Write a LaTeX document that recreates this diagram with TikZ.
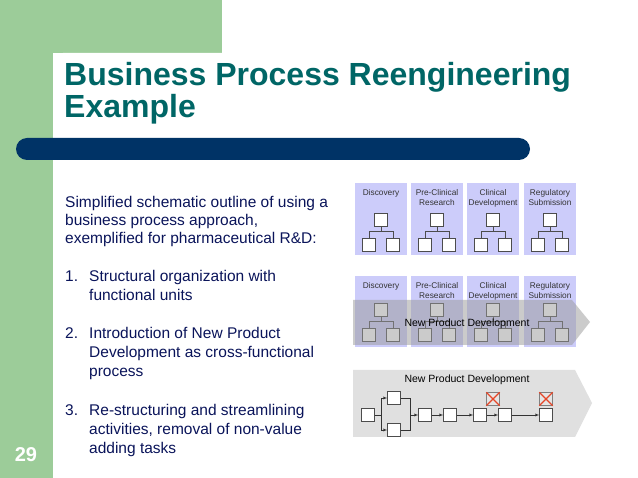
\documentclass[tikz,border=0pt]{standalone}
\usepackage{fontspec}
\setmainfont{Liberation Sans}
\usepackage{xcolor}
\definecolor{slidegreen}{RGB}{156,204,153}
\definecolor{titleteal}{RGB}{0,102,102}
\definecolor{barblue}{RGB}{0,51,102}
\definecolor{bodyblue}{RGB}{10,20,90}
\definecolor{lav}{RGB}{204,204,250}
\definecolor{xred}{RGB}{230,70,40}

\tikzset{
  unit/.style={fill=lav},
  hdr/.style={font=\fontsize{8.3}{9.5}\selectfont, align=center, text=black!80},
  org/.style={draw=black!70, fill=white, minimum size=13pt, inner sep=0pt},
  orgg/.style={draw=black!50, fill=black!10, minimum size=13pt, inner sep=0pt},
  body/.style={anchor=base west, font=\fontsize{15.5}{17}\selectfont, text=bodyblue, inner sep=0pt},
  ttl/.style={anchor=base west, text=titleteal, font=\bfseries\fontsize{32}{34}\selectfont, inner sep=0pt},
  flow/.style={-latex, black!80},
}

\begin{document}
\begin{tikzpicture}[x=1pt,y=-1pt]
\useasboundingbox (0,0) rectangle (638,478);
% Background
\fill[slidegreen] (0,0) rectangle (222,53);
\fill[slidegreen] (0,0) rectangle (53,478);
\fill[white, rounded corners=10pt] (53,53) rectangle (660,500);
\fill[barblue, rounded corners=11pt] (16,138) rectangle (530,160);
\node[text=white, font=\bfseries\fontsize{20}{20}\selectfont] (pg) at (26,455) {29};

% Title
\node[ttl] (t1) at (64,86) {Business Process Reengineering};
\node[ttl] (t2) at (64,118) {Example};

% Body text
\node[body] (b1) at (65,208) {Simplified schematic outline of using a};
\node[body] (b2) at (65,226) {business process approach,};
\node[body] (b3) at (65,244) {exemplified for pharmaceutical R\&D:};
\node[body] (n1) at (65,282) {1.};
\node[body] (i1a) at (89,282) {Structural organization with};
\node[body] (i1b) at (89,301) {functional units};
\node[body] (n2) at (65,339) {2.};
\node[body] (i2a) at (89,339) {Introduction of New Product};
\node[body] (i2b) at (89,358) {Development as cross-functional};
\node[body] (i2c) at (89,377) {process};
\node[body] (n3) at (65,416) {3.};
\node[body] (i3a) at (89,416) {Re-structuring and streamlining};
\node[body] (i3b) at (89,435) {activities, removal of non-value};
\node[body] (i3c) at (89,454) {adding tasks};

% Functional units, rows 1 and 2
\foreach \x/\lbl [count=\i] in {381/Discovery, 437/Pre-Clinical\\Research, 493/Clinical\\Development, 550/Regulatory\\Submission}{
  \fill[unit] (\x-26,183) rectangle (\x+26,255);
  \node[hdr, anchor=north] (ha\i) at (\x,186) {\lbl};
  \node[org] (ta\i) at (\x,220) {};
  \node[org] (la\i) at (\x-12,245) {};
  \node[org] (ra\i) at (\x+12,245) {};
  \draw[black!70] (ta\i.south) -- ++(0,5) -| (la\i.north);
  \draw[black!70] (ta\i.south) ++(0,5) -| (ra\i.north);
  \fill[unit] (\x-26,276) rectangle (\x+26,347);
  \node[hdr, anchor=north] (hb\i) at (\x,279) {\lbl};
  \node[org] (tb\i) at (\x,310) {};
  \node[org] (lb\i) at (\x-12,335) {};
  \node[org] (rb\i) at (\x+12,335) {};
  \draw[black!70] (tb\i.south) -- ++(0,5) -| (lb\i.north);
  \draw[black!70] (tb\i.south) ++(0,5) -| (rb\i.north);
}
% Cross-functional arrow
\fill[black!40, opacity=0.5] (353,300) -- (572,300) -- (590,322) -- (572,345) -- (353,345) -- cycle;
\node[font=\fontsize{10.5}{11}\selectfont] (npd) at (467,324) {New Product Development};

% Streamlined process
\fill[black!12] (353,370) -- (575,370) -- (592,403) -- (575,437) -- (353,437) -- cycle;
\node[font=\fontsize{10.5}{11}\selectfont] (npd2) at (467,380) {New Product Development};
\node[org] (p1) at (368,415) {};
\node[org] (p2) at (394,398) {};
\node[org] (p3) at (394,430) {};
\node[org] (p4) at (425,415) {};
\node[org] (p5) at (450,415) {};
\node[org] (p6) at (480,415) {};
\node[org] (p7) at (505,415) {};
\node[org] (p8) at (546,415) {};
\coordinate (sp) at (381,415);
\coordinate (jn) at (410,415);
\draw[black!80] (p1.east) -- (sp);
\draw[flow] (sp) |- (p2.west);
\draw[flow] (sp) |- (p3.west);
\draw[black!80] (p2.east) -| (jn);
\draw[black!80] (p3.east) -| (jn);
\draw[flow] (jn) -- (p4.west);
\draw[flow] (p4) -- (p5);
\draw[flow] (p5) -- (p6);
\draw[flow] (p6) -- (p7);
\draw[flow] (p7) -- (p8);
% Removed tasks
\foreach \x [count=\j] in {493,546}{
  \node[orgg] (x\j) at (\x,399) {};
  \draw[xred, very thick] (x\j.north west) -- (x\j.south east) (x\j.north east) -- (x\j.south west);
}
\end{tikzpicture}
\end{document}
